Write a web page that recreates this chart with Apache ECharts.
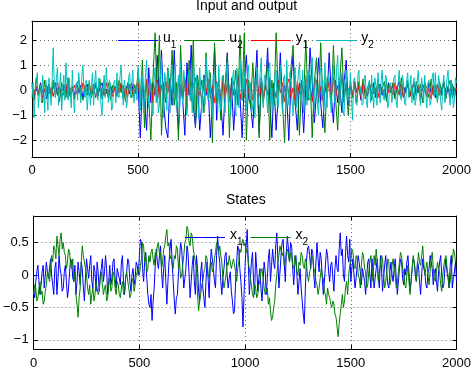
<!DOCTYPE html>
<html><head><meta charset="utf-8">
<script src="https://cdn.jsdelivr.net/npm/echarts@6/dist/echarts.min.js"></script>
<style>html,body{margin:0;padding:0;background:#fff}#c{width:474px;height:370px}</style>
</head><body><div id="c"></div>
<script>
// spacing (in time steps) between stored values
const coarseStep = 10;   // u1, u2, y1
const fineStep = 5;      // y2, x1, x2
const xTicks = [0, 500, 1000, 1500, 2000];
const topYTicks = [-2, -1, 0, 1, 2];
const botYTicks = [-1, -0.5, 0, 0.5];
const topTitle = 'Input and output';
const botTitle = 'States';

// ---- Input and output ----
const u1 = [
 0.2,-0.3,0.1,-0.2,0.3,-0.1,0.0,-0.35,0.25,-0.15,
 0.1,0.3,-0.2,0.15,-0.3,0.2,-0.1,0.25,-0.25,0.05,
 -0.2,0.3,-0.1,0.2,-0.3,0.1,0.25,-0.2,0.0,-0.15,
 0.2,-0.25,0.1,0.3,-0.2,0.05,-0.3,0.2,-0.1,0.15,
 -0.2,0.1,0.25,-0.3,0.0,0.2,-0.15,0.3,-0.25,0.1,
 0.3,-1.9,0.2,-0.4,-1.6,0.9,-0.5,0.3,-0.2,1.4,
 -0.3,1.6,-0.5,-1.5,-1.9,0.4,-0.6,1.6,-0.3,-1.6,
 0.2,-0.4,-1.8,1.1,-0.2,1.8,-0.6,-1.5,0.3,-1.6,
 -0.5,0.6,-0.2,0.2,-1.9,-0.3,1.7,-1.2,0.4,-0.5,
 -1.8,0.1,1.5,-0.4,0.3,-1.6,-0.2,0.6,-0.3,-1.9,
 0.4,1.4,-0.3,-0.6,-1.5,0.2,1.6,-1.7,0.5,-0.3,
 0.1,1.7,-0.4,-1.9,0.3,-1.6,-0.2,1.5,-0.6,0.2,
 -0.3,-2.0,0.4,1.4,-0.5,-1.6,0.3,-0.2,-1.7,0.2,
 -0.4,1.7,0.3,-1.3,-0.1,1.3,-0.5,-1.5,0.2,-0.3,
 1.5,-0.2,-1.3,0.4,-0.5,0.2,-0.9,0.3,1.2,-0.6,
 0.2,-0.3,0.35,-0.1,0.15,-0.4,0.3,0.0,-0.25,0.2,
 -0.15,0.3,-0.3,0.1,0.25,-0.2,0.05,-0.35,0.3,-0.1,
 0.2,-0.25,0.1,0.35,-0.3,0.15,-0.1,0.25,-0.2,0.0,
 0.3,-0.2,0.1,-0.35,0.2,0.05,-0.25,0.3,-0.1,0.15,
 -0.3,0.2,0.0,-0.2,0.35,-0.15,0.1,-0.3,0.25,-0.05,
 0.1];
const u2 = [
 0.3,-0.4,0.5,-0.2,0.1,-0.5,0.4,-0.1,0.2,-0.3,
 0.4,-0.2,0.1,-0.45,0.3,0.0,-0.3,0.5,-0.2,0.15,
 -0.35,0.25,0.4,-0.1,-0.4,0.2,-0.05,0.35,-0.3,0.1,
 0.3,-0.2,0.45,-0.35,0.1,-0.15,0.3,-0.4,0.2,0.05,
 -0.25,0.4,-0.1,0.2,-0.45,0.3,0.1,-0.3,0.25,-0.15,
 0.8,-0.6,1.2,-1.5,0.4,-0.3,-2.0,0.5,2.3,-0.4,
 2.2,-1.8,0.3,-0.5,0.9,-0.2,1.6,-0.6,0.3,-2.0,
 1.8,-0.4,0.5,-0.8,1.2,-0.3,2.0,-1.5,0.6,-0.2,
 0.4,-0.9,1.5,-0.3,0.7,-2.1,1.9,-0.5,0.3,-1.2,
 0.6,-0.3,1.4,-1.9,0.5,-0.2,0.8,-0.6,2.2,-0.4,
 2.3,-2.0,0.4,-0.7,1.1,-0.3,0.6,-1.9,0.5,-0.4,
 0.3,1.2,-2.0,0.4,-0.6,2.3,-0.2,0.7,-0.5,-2.1,
 0.5,-0.3,0.9,1.8,-0.6,0.2,-1.8,0.4,-0.2,2.0,
 -0.4,0.6,-1.9,0.3,1.3,-0.5,1.9,-0.3,-1.7,0.5,
 0.2,-0.6,1.8,-0.3,-1.6,0.4,1.7,-0.5,0.3,-1.0,
 0.4,-0.3,0.2,-0.5,0.35,-0.1,0.45,-0.35,0.1,0.3,
 -0.4,0.2,-0.15,0.45,-0.3,0.1,0.35,-0.45,0.25,-0.1,
 0.3,-0.35,0.15,-0.2,0.5,-0.3,0.05,0.4,-0.25,0.2,
 -0.4,0.35,-0.1,0.25,-0.5,0.3,0.1,-0.3,0.45,-0.2,
 0.2,-0.45,0.35,-0.1,0.3,-0.35,0.15,0.4,-0.3,0.1,
 0.0];
const y1 = [
 0.1,-0.2,0.15,-0.1,0.25,-0.3,0.05,0.2,-0.15,0.1,
 -0.25,0.15,0.3,-0.1,0.05,-0.2,0.25,-0.3,0.1,0.0,
 0.2,-0.15,0.1,-0.25,0.3,0.05,-0.2,0.15,-0.1,0.25,
 -0.3,0.1,0.2,-0.05,-0.2,0.3,-0.1,0.15,-0.25,0.05,
 0.2,-0.1,0.3,-0.2,0.1,-0.3,0.25,0.0,-0.15,0.2,
 0.3,-0.4,0.1,-0.3,0.45,-0.2,0.3,-0.5,0.2,0.4,
 -0.3,0.2,-0.45,0.35,-0.1,0.5,-0.3,0.15,-0.4,0.3,
 0.1,-0.35,0.4,-0.2,0.3,-0.45,0.2,0.5,-0.3,0.1,
 -0.4,0.3,-0.1,0.45,-0.3,0.2,-0.5,0.35,0.0,-0.2,
 0.4,-0.3,0.25,-0.45,0.1,0.35,-0.2,0.5,-0.35,0.15,
 -0.3,0.45,-0.1,0.3,-0.4,0.2,0.4,-0.25,0.1,-0.45,
 0.3,-0.2,0.5,-0.35,0.15,-0.3,0.4,-0.1,0.3,-0.45,
 0.2,0.45,-0.3,0.1,-0.4,0.35,-0.15,0.3,-0.35,0.5,
 -0.2,0.3,-0.45,0.2,0.4,-0.3,0.15,-0.4,0.3,-0.1,
 0.35,-0.25,0.5,-0.3,0.2,-0.45,0.6,-0.2,0.3,-0.35,
 0.2,-0.2,0.3,-0.1,0.15,-0.3,0.25,0.0,-0.2,0.1,
 0.25,-0.15,0.1,-0.3,0.2,0.05,-0.25,0.3,-0.1,0.15,
 -0.2,0.3,0.0,-0.15,0.25,-0.3,0.1,0.2,-0.25,0.05,
 0.3,-0.1,0.2,-0.3,0.15,0.25,-0.2,0.05,-0.35,0.2,
 -0.1,0.25,-0.2,0.1,0.3,-0.25,0.15,-0.05,0.2,-0.3,
 0.1];
const y2 = [
 -0.3,0.3,-1.1,-0.2,0.4,0.7,-0.7,-0.1,0.2,-0.5,0.6,0.1,-0.9,0.4,-0.2,-0.8,0.5,0.0,-0.6,0.5,
 1.7,0.2,-0.3,0.5,0.9,-0.6,0.2,0.7,-0.8,0.1,0.6,-0.4,1.1,0.3,-0.4,0.5,-0.1,-0.7,0.8,-0.2,
 -0.9,0.1,0.3,-0.4,0.7,0.2,-0.5,0.6,1.0,0.0,-0.3,0.4,-0.8,-0.2,0.4,-0.6,0.1,0.7,-0.6,0.2,
 0.8,-0.1,-0.4,0.5,0.3,-0.6,-1.0,0.1,0.6,-0.3,0.9,0.2,-0.5,0.4,0.2,-0.8,-0.7,0.3,0.4,-0.5,
 0.7,-0.2,-0.3,0.6,1.0,0.1,-0.6,0.4,0.1,-0.7,-0.4,0.5,0.7,-0.3,0.3,0.8,-0.5,0.0,0.2,-0.4,
 1.0,0.2,-0.8,0.6,0.5,-0.9,-0.3,0.7,1.2,-0.2,-0.7,0.5,0.2,-0.6,-1.0,0.4,0.9,-0.5,0.3,-0.9,
 -0.6,0.5,1.3,-0.3,-1.1,0.7,0.4,-0.8,0.8,0.2,-0.9,0.6,1.0,-0.5,-0.2,0.9,-0.7,0.1,0.6,-1.0,
 1.1,0.0,-0.5,0.8,0.3,-0.7,-1.0,0.5,0.8,-0.4,0.2,-0.9,1.2,0.4,-0.7,0.6,-0.3,-1.1,0.9,0.1,
 -0.9,0.4,0.5,-0.6,1.3,0.2,-0.4,0.8,0.1,-0.5,-1.1,0.6,0.7,-0.3,0.3,-0.9,1.0,-0.2,-0.8,0.5,
 0.6,-0.4,-0.9,0.7,1.1,-0.6,0.2,-1.0,-0.5,0.5,0.8,-0.3,-1.0,0.9,0.4,-0.7,1.2,0.1,-0.4,0.8,
 0.7,-0.5,-0.8,0.6,1.0,-0.3,0.3,-0.9,-0.6,0.5,-1.1,0.2,0.9,-0.6,-0.2,0.7,1.3,-0.4,-0.7,0.6,
 0.5,-0.2,-0.9,0.8,1.1,-0.5,0.1,-0.8,-0.4,0.6,0.8,-0.6,-0.7,0.4,1.0,-0.3,-0.9,0.5,0.6,-0.8,
 1.2,0.1,-0.6,0.7,0.3,-0.4,-1.0,0.5,0.9,-0.7,0.2,0.6,1.1,-0.2,-0.5,0.8,-0.9,0.3,0.6,-0.6,
 0.8,-0.3,-0.4,0.9,1.3,-0.2,-0.8,0.5,0.2,-0.6,-1.0,0.7,0.9,-0.4,0.4,-0.8,1.1,0.2,-0.7,0.6,
 0.5,-0.3,-0.9,0.7,1.0,-0.5,-0.3,0.8,1.4,0.0,-0.6,0.6,0.7,-0.8,-1.0,0.4,0.8,-0.4,0.1,-0.6,
 0.7,-0.3,-1.2,0.4,0.5,-0.5,-0.6,0.6,0.8,-0.2,0.1,-0.6,-0.5,0.5,0.6,-0.4,-0.7,0.3,0.4,-0.5,
 0.6,-0.2,-0.7,0.5,0.2,-0.6,0.7,0.0,-0.5,0.4,0.8,-0.3,-0.4,0.6,0.5,-0.7,-0.6,0.2,0.3,-0.5,
 -0.2,0.5,0.6,-0.4,-0.7,0.3,0.8,-0.2,-0.4,0.6,0.3,-0.5,-0.6,0.4,0.7,-0.3,0.1,0.6,-0.5,0.2,
 0.5,-0.6,-0.3,0.4,0.8,-0.2,-0.6,0.5,0.2,-0.5,0.6,0.0,-0.7,0.3,0.4,-0.6,-0.4,0.5,0.7,-0.2,
 0.7,-0.1,-0.5,0.6,0.3,-0.4,-0.8,0.2,0.6,-0.5,-0.3,0.5,0.8,-0.2,-0.6,0.4,0.2,-0.7,-0.4,0.5,
 0.3];

// ---- States ----
const x1 = [
 -0.25,-0.35,-0.1,0.05,0.15,-0.1,-0.3,-0.15,0.05,0.15,-0.2,0.0,0.2,0.05,-0.05,0.1,0.25,0.0,-0.15,-0.3,
 0.1,0.2,-0.3,-0.05,0.3,0.1,0.0,-0.25,-0.2,0.05,0.15,-0.1,-0.35,-0.2,0.05,0.25,0.2,-0.05,-0.1,0.15,
 -0.3,-0.1,0.2,0.05,-0.15,0.2,0.1,-0.2,-0.4,-0.05,0.25,0.1,-0.05,0.15,0.3,-0.1,-0.2,0.15,0.05,-0.25,
 0.2,0.05,-0.25,0.0,0.1,0.25,-0.1,0.05,0.3,0.1,-0.3,-0.1,0.15,-0.15,-0.05,0.2,0.25,-0.05,-0.2,0.1,
 0.1,-0.05,-0.15,0.2,0.3,-0.1,-0.3,-0.05,0.05,0.25,0.2,-0.1,-0.25,0.0,0.1,-0.15,-0.05,0.2,0.15,0.0,
 0.3,0.55,0.5,0.1,-0.1,0.2,0.35,-0.05,-0.3,-0.45,-0.5,-0.3,-0.7,-0.4,-0.2,0.15,0.4,0.2,0.1,0.3,
 0.45,0.05,-0.2,0.1,0.3,-0.1,-0.45,-0.1,0.2,0.4,0.55,0.2,-0.1,-0.4,-0.6,-0.35,-0.3,0.05,0.25,0.5,
 0.4,0.1,-0.2,-0.05,0.1,0.45,0.35,0.0,-0.35,-0.1,0.15,0.3,-0.1,-0.3,0.3,0.1,-0.25,-0.4,0.05,0.2,
 -0.2,-0.35,-0.5,-0.1,0.2,-0.05,-0.35,0.15,0.4,0.25,0.1,-0.1,-0.2,0.3,0.6,0.35,0.2,-0.1,-0.3,-0.05,
 0.1,0.3,0.35,0.0,-0.2,-0.05,0.05,-0.25,-0.4,-0.6,-0.55,-0.1,0.2,0.45,0.4,0.1,-0.1,-0.35,-0.8,-0.3,
 0.15,0.45,0.7,0.2,-0.3,-0.05,0.2,0.35,-0.1,-0.3,0.35,0.1,-0.25,-0.05,0.1,-0.2,-0.4,-0.1,0.2,0.05,
 -0.3,-0.05,0.25,0.4,-0.1,0.15,0.4,0.2,0.1,0.45,0.65,0.25,-0.2,0.05,0.3,0.5,0.55,0.2,-0.1,0.35,
 0.6,0.4,0.2,0.5,0.45,0.1,-0.15,0.15,0.3,0.0,-0.3,-0.1,0.1,-0.2,-0.4,-0.6,-0.75,-0.2,0.2,0.4,
 0.45,0.3,0.1,0.4,0.35,0.0,-0.2,0.2,0.5,0.25,0.05,0.35,0.25,-0.05,-0.3,-0.1,0.15,0.4,0.3,0.05,
 -0.1,0.15,0.2,-0.05,-0.25,0.1,0.3,0.1,0.05,0.4,0.65,0.3,0.4,0.0,-0.1,0.35,0.6,0.3,0.2,0.55,
 -0.1,0.1,0.25,0.0,-0.2,-0.05,0.15,0.3,0.3,0.05,-0.15,0.1,0.1,-0.1,-0.3,-0.05,0.2,0.25,0.0,-0.2,
 0.25,0.05,-0.2,-0.05,0.1,0.25,-0.05,-0.2,0.3,0.1,-0.25,-0.05,0.15,0.3,0.05,-0.15,-0.2,0.05,0.2,0.0,
 -0.1,0.1,0.25,-0.05,-0.3,-0.1,0.1,0.25,0.2,-0.05,-0.15,0.1,0.0,0.2,0.3,0.05,-0.25,-0.1,0.1,0.25,
 0.2,0.0,-0.1,0.2,0.15,-0.1,-0.3,0.0,0.25,0.1,0.05,-0.15,-0.2,0.05,0.1,0.3,0.3,0.1,-0.15,0.05,
 0.1,-0.1,-0.25,0.05,0.2,0.3,0.0,-0.2,-0.15,0.1,0.25,0.05,-0.05,-0.2,0.15,0.3,-0.2,-0.05,0.05,0.2,
 -0.1];
const x2 = [
 -0.3,-0.15,-0.2,-0.4,-0.35,-0.2,-0.1,-0.3,-0.25,-0.45,-0.4,-0.25,-0.15,0.05,0.0,-0.1,0.1,0.3,0.2,0.45,
 0.4,0.25,0.6,0.45,0.3,0.55,0.65,0.4,0.5,0.35,0.3,0.1,0.2,0.4,0.35,0.15,0.1,0.25,-0.1,0.05,
 -0.3,-0.45,-0.65,-0.35,-0.2,0.2,0.45,0.3,0.3,0.1,0.0,-0.2,-0.3,-0.15,-0.45,-0.3,-0.2,-0.4,-0.3,-0.1,
 -0.1,-0.3,-0.25,-0.05,0.05,-0.15,-0.3,-0.2,-0.15,-0.4,-0.35,-0.15,-0.05,-0.25,-0.2,0.05,0.0,-0.2,-0.3,-0.1,
 -0.15,-0.3,-0.35,-0.2,-0.1,-0.3,-0.25,-0.05,0.05,-0.1,-0.2,-0.35,-0.3,-0.1,-0.05,-0.25,-0.15,0.0,0.05,0.1,
 0.0,0.15,0.25,0.5,0.45,0.2,0.3,0.05,0.1,0.3,0.2,0.35,0.4,0.25,0.15,0.35,0.3,0.45,0.5,0.3,
 0.35,0.1,0.2,0.4,0.45,0.6,0.7,0.45,0.5,0.25,0.3,0.15,0.1,0.3,0.25,0.45,0.4,0.1,0.2,-0.05,
 0.0,0.15,0.3,0.5,0.55,0.75,0.7,0.5,0.45,0.65,0.6,0.4,0.3,0.2,0.1,-0.3,-0.55,-0.4,-0.3,-0.15,
 -0.1,0.05,0.1,0.3,0.25,0.0,-0.05,0.15,0.2,0.05,0.1,0.25,0.35,0.5,0.5,0.35,0.45,0.3,0.2,-0.05,
 -0.2,-0.1,0.0,0.2,0.15,0.3,0.3,0.1,0.1,0.25,0.25,0.05,-0.1,0.1,0.2,0.4,0.35,0.5,0.55,0.45,
 0.5,0.35,0.4,0.2,0.1,-0.05,-0.15,-0.3,-0.35,-0.15,-0.2,-0.35,-0.3,-0.15,-0.1,0.05,0.1,-0.05,-0.2,-0.3,
 -0.3,-0.2,-0.45,-0.35,-0.55,-0.7,-0.65,-0.5,-0.4,-0.15,0.0,0.2,0.3,0.45,0.45,0.3,0.35,0.15,0.2,0.35,
 0.4,0.3,0.2,0.35,0.3,0.15,0.1,0.3,0.25,0.05,0.0,0.2,0.15,0.35,0.3,0.15,0.1,0.25,0.2,0.0,
 -0.1,0.05,0.1,0.3,0.25,0.1,0.05,-0.1,-0.15,-0.3,-0.2,-0.05,0.1,0.0,-0.05,-0.25,-0.3,-0.45,-0.2,-0.3,
 -0.35,-0.45,-0.5,-0.4,-0.45,-0.6,-0.65,-0.8,-0.95,-0.75,-0.6,-0.45,-0.3,-0.5,-0.4,-0.2,-0.1,-0.3,0.0,0.15,
 0.2,0.4,0.35,0.15,0.1,0.3,0.25,0.0,-0.05,-0.2,0.15,0.35,0.3,0.1,0.05,-0.2,-0.15,0.05,0.2,0.3,
 0.1,-0.1,0.3,0.15,0.4,0.2,-0.1,0.05,0.15,0.3,0.25,0.0,-0.2,-0.1,0.05,0.25,0.2,-0.15,-0.05,0.15,
 0.25,0.1,0.0,-0.2,-0.15,0.05,0.2,0.35,0.3,0.1,0.05,-0.15,-0.2,0.0,0.15,-0.1,-0.3,-0.1,0.1,0.3,
 0.2,0.05,-0.1,0.15,0.35,0.2,0.15,0.3,0.45,0.2,0.0,0.1,0.2,0.0,-0.15,0.05,0.25,0.35,0.1,-0.05,
 -0.1,0.05,0.2,0.1,0.05,-0.15,-0.25,0.0,0.15,0.25,0.3,0.1,0.0,-0.2,-0.1,0.1,0.2,0.4,0.35,0.2,
 0.2];

const FONT = "'Liberation Sans', Arial, Helvetica, sans-serif";
const pairs = (arr, step) => arr.map((v, i) => [i * step, v]);
const minus = v => String(v).replace('-', '\u2212');

function xAx(grid, pos) {
  const main = pos === 'bottom';
  return {
    gridIndex: grid, type: 'value', position: pos, min: xTicks[0], max: xTicks[xTicks.length - 1], interval: 500,
    axisLine: {show: true, onZero: false, lineStyle: {color: '#000', width: 1}},
    axisTick: {show: true, inside: true, length: 4, lineStyle: {color: '#000'}},
    axisLabel: {show: main, color: '#000', fontSize: 13, fontFamily: FONT, margin: grid === 0 ? 7 : 8, formatter: v => String(v)},
    splitLine: {show: main, lineStyle: {type: [1, 3], color: '#666', width: 1}}
  };
}
function yAx(grid, pos, mn, mx, ticks) {
  const main = pos === 'left';
  return {
    gridIndex: grid, type: 'value', position: pos, min: mn, max: mx,
    axisLine: {show: true, onZero: false, lineStyle: {color: '#000', width: 1}},
    axisTick: {show: true, inside: true, length: 4, customValues: ticks, lineStyle: {color: '#000'}},
    axisLabel: {show: main, customValues: ticks, color: '#000', fontSize: 13, fontFamily: FONT, margin: 5, formatter: minus},
    splitLine: {show: main, lineStyle: {type: [1, 3], color: '#666', width: 1}}
  };
}
function line(name, data, step, color, xi, yi) {
  return {name, type: 'line', data: pairs(data, step), xAxisIndex: xi, yAxisIndex: yi,
    symbol: 'none', showSymbol: false, color, lineStyle: {color, width: 1}, animation: false, silent: true};
}
const legendRich = {
  b: {fontSize: 14, fontFamily: FONT, color: '#000', lineHeight: 14, verticalAlign: 'top'},
  s: {fontSize: 10, fontFamily: FONT, color: '#000', lineHeight: 10, verticalAlign: 'bottom'},
  z: {fontSize: 10, fontFamily: FONT, color: '#000', lineHeight: 19, verticalAlign: 'middle'}
};
function legend(names, left, top) {
  return {data: names, left, top, orient: 'horizontal', icon: 'rect', itemWidth: 40, itemHeight: 1, itemGap: 8,
    selectedMode: false, padding: 0,
    formatter: n => '{b|' + n[0] + '}{s|' + n.slice(1) + '}{z|\u200b}',
    textStyle: {rich: legendRich}};
}

const chart = echarts.init(document.getElementById('c'), null, {renderer: 'canvas'});
chart.setOption({
  backgroundColor: '#fff',
  animation: false,
  title: [
    {text: topTitle, left: 196, top: -1, padding: 0, textStyle: {fontSize: 14, fontWeight: 'normal', color: '#000', fontFamily: FONT}},
    {text: botTitle, left: 226, top: 193, padding: 0, textStyle: {fontSize: 14, fontWeight: 'normal', color: '#000', fontFamily: FONT}}
  ],
  grid: [
    {left: 32, top: 21, width: 428, height: 136, show: false},
    {left: 32, top: 216, width: 428, height: 137, show: false}
  ],
  xAxis: [xAx(0, 'bottom'), xAx(0, 'top'), xAx(1, 'bottom'), xAx(1, 'top')],
  yAxis: [
    yAx(0, 'left', -2.67, 2.77, topYTicks), yAx(0, 'right', -2.67, 2.77, topYTicks),
    yAx(1, 'left', -1.14, 0.91, botYTicks), yAx(1, 'right', -1.14, 0.91, botYTicks)
  ],
  legend: [legend(['u1', 'u2', 'y1', 'y2'], 118, 31), legend(['x1', 'x2'], 185, 228)],
  series: [
    line('u1', u1, coarseStep, '#0000ff', 0, 0),
    line('u2', u2, coarseStep, '#008000', 0, 0),
    line('y1', y1, coarseStep, '#ff0000', 0, 0),
    line('y2', y2, fineStep, '#00bfbf', 0, 0),
    line('x1', x1, fineStep, '#0000ff', 2, 2),
    line('x2', x2, fineStep, '#008000', 2, 2)
  ]
});
</script>
</body></html>
